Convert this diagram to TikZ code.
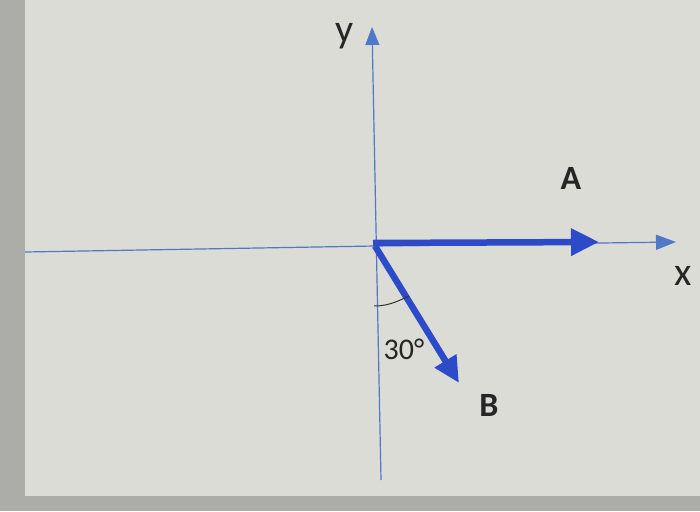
\documentclass[tikz,border=0pt]{standalone}
\usepackage{fontspec}
\setmainfont{Carlito}
\usetikzlibrary{arrows.meta}
\definecolor{bgc}{RGB}{220,220,215}
\definecolor{edgec}{RGB}{172,172,168}
\definecolor{axisc}{RGB}{80,120,200}
\definecolor{vecc}{RGB}{45,75,200}
\tikzset{
  axisline/.style={draw=axisc, line width=1.2pt},
  vecline/.style={draw=vecc, line width=6.5pt},
  lbl/.style={text=black!85, inner sep=0pt},
}
\begin{document}
\begin{tikzpicture}[x=1pt,y=-1pt]
\useasboundingbox (0,0) rectangle (700,511);
\fill[edgec] (0,0) rectangle (700,511);
\fill[bgc] (25,0) rectangle (700,496);
% axes
\coordinate (O) at (375,246);
\coordinate (xl) at (25,252);
\coordinate (xr) at (676,242);
\coordinate (yt) at (372,27);
\coordinate (yb) at (381,480);
\draw[axisline] (xl) -- (O);
\draw[axisline, -{Triangle[length=20pt,width=15pt]}] (O) -- (xr);
\draw[axisline, -{Triangle[length=18pt,width=14pt]}] (yb) -- (yt);
% vectors
\coordinate (Aend) at (599,242);
\coordinate (Bend) at (459,383);
\draw[vecline, -{Triangle[length=28pt,width=26pt]}] (373,243) -- (Aend);
\draw[vecline, -{Triangle[length=26pt,width=24pt]}] (375,246) -- (Bend);
% angle mark
\coordinate (m1) at (374,306);
\coordinate (m2) at (409,296);
\draw[black!80, line width=1pt] (m1) .. controls (390,306) and (400,300) .. (m2);
% labels
\node[lbl, font=\fontsize{40}{40}\selectfont] (ylab) at (345,36) {y};
\node[lbl, font=\fontsize{40}{40}\selectfont] (xlab) at (683,276) {x};
\node[lbl, font=\bfseries\fontsize{34}{34}\selectfont] (alab) at (571,178) {A};
\node[lbl, font=\bfseries\fontsize{34}{34}\selectfont] (blab) at (489,405) {B};
\node[lbl, font=\fontsize{30}{30}\selectfont] (ang) at (404,349) {30°};
\end{tikzpicture}
\end{document}
